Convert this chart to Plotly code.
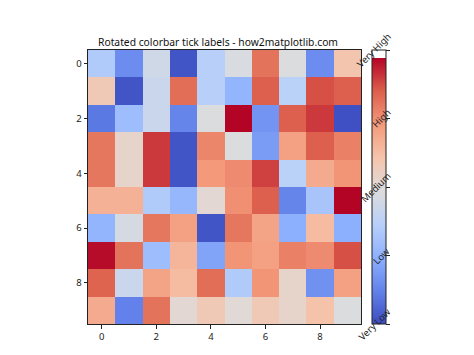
import plotly.graph_objects as go

title_text = "Rotated colorbar tick labels - how2matplotlib.com"
x_ticks = [0, 2, 4, 6, 8]
y_ticks = [0, 2, 4, 6, 8]
cbar_tickvals = [0, 0.25, 0.5, 0.75, 1.0]
cbar_ticktext = ["Very Low", "Low", "Medium", "High", "Very High"]

row0 = [0.34, 0.15, 0.44, 0.02, 0.36, 0.47, 0.81, 0.48, 0.15, 0.60]
row1 = [0.58, 0.02, 0.42, 0.82, 0.36, 0.26, 0.85, 0.37, 0.87, 0.85]
row2 = [0.10, 0.29, 0.42, 0.13, 0.48, 0.97, 0.17, 0.85, 0.90, 0.01]
row3 = [0.80, 0.53, 0.90, 0.02, 0.77, 0.48, 0.19, 0.71, 0.85, 0.78]
row4 = [0.80, 0.53, 0.90, 0.02, 0.73, 0.76, 0.89, 0.37, 0.68, 0.74]
row5 = [0.66, 0.66, 0.34, 0.27, 0.51, 0.75, 0.85, 0.13, 0.32, 0.97]
row6 = [0.26, 0.46, 0.80, 0.71, 0.02, 0.80, 0.70, 0.24, 0.63, 0.24]
row7 = [0.96, 0.81, 0.29, 0.65, 0.21, 0.74, 0.71, 0.78, 0.76, 0.87]
row8 = [0.84, 0.42, 0.70, 0.63, 0.82, 0.34, 0.74, 0.53, 0.16, 0.71]
row9 = [0.68, 0.12, 0.81, 0.51, 0.58, 0.50, 0.58, 0.53, 0.61, 0.48]
z = [row0, row1, row2, row3, row4, row5, row6, row7, row8, row9]

coolwarm = ["#3b4cc0", "#6282ea", "#8db0fe", "#b8d0f9", "#dddcdc",
            "#f5c4ac", "#f49a7b", "#dd604d", "#b40426"]
data_max = 0.97
colorscale = [[data_max * i / 8, c] for i, c in enumerate(coolwarm)]
colorscale += [[data_max + 0.0001, "#ffffff"], [1.0, "#ffffff"]]

FONT = "Noto Sans"

fig = go.Figure(go.Heatmap(
    z=z,
    colorscale=colorscale,
    zmin=0, zmax=1,
    xgap=0, ygap=0,
    colorbar=dict(
        thickness=14, x=(364 - 80) / 273, xanchor="left", xpad=0,
        y=0.5, len=1, lenmode="fraction", ypad=0,
        outlinewidth=1, outlinecolor="#222222",
        tickvals=cbar_tickvals, ticks="outside", ticklen=3.5,
        tickcolor="#222222", showticklabels=False,
    ),
))

annotations = []
for v, t in zip(cbar_tickvals, cbar_ticktext):
    annotations.append(dict(
        x=(388 - 80) / 273, y=v, xref="paper", yref="paper",
        text=t, showarrow=False, textangle=-45,
        xanchor="right", yanchor="middle",
        font=dict(size=9.5, color="#222222", family=FONT),
    ))

fig.update_layout(
    width=474, height=355,
    margin=dict(l=80, r=121, t=42, b=39),
    paper_bgcolor="white", plot_bgcolor="white",
    font=dict(family=FONT, size=9.5, color="#222222"),
    title=dict(text=title_text, x=210 / 474, xanchor="center",
               y=1 - 34 / 355, yanchor="middle", yref="container",
               font=dict(size=10.3, color="#111111", family=FONT)),
    xaxis=dict(range=[-0.5, 9.5], tickvals=x_ticks, ticks="outside",
               ticklen=3.5, tickcolor="#222222", showline=True,
               linecolor="#222222", linewidth=1, mirror=True,
               showgrid=False, zeroline=False),
    yaxis=dict(range=[9.5, -0.5], tickvals=y_ticks, ticks="outside",
               ticklen=3.5, tickcolor="#222222", showline=True,
               linecolor="#222222", linewidth=1, mirror=True,
               showgrid=False, zeroline=False),
    annotations=annotations,
)

fig.write_html("out.html")
